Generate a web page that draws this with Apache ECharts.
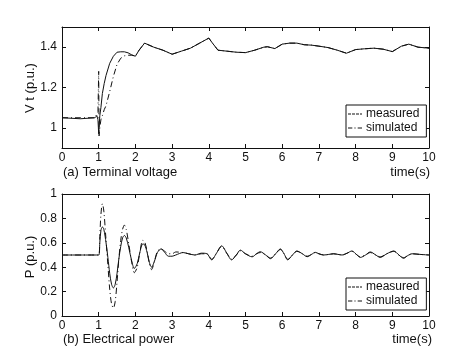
<!DOCTYPE html>
<html><head><meta charset="utf-8">
<script src="https://cdn.jsdelivr.net/npm/echarts@6/dist/echarts.min.js"></script>
<style>html,body{margin:0;padding:0;background:#fff}#c{width:474px;height:355px}</style>
</head><body><div id="c"></div>
<script>
// ---- data ----
const timeTicks = [0,1,2,3,4,5,6,7,8,9,10];
const vtTicks = [1, 1.2, 1.4];
const pTicks = [0, 0.2, 0.4, 0.6, 0.8, 1];

const vtTime = [0,0.5,0.9,0.95,0.98,1.0,1.01,1.03,1.06,1.1,1.15,1.2,1.3,1.4,1.5,1.6,1.7,1.8,1.9,2.0,2.1,2.25,2.5,2.75,3.0,3.25,3.5,3.75,4.0,4.1,4.25,4.5,4.75,5.0,5.25,5.5,5.6,5.8,6.0,6.2,6.4,6.6,6.8,7.0,7.25,7.5,7.75,8.0,8.25,8.5,8.75,9.0,9.25,9.45,9.7,10];
const vtMeasured = [1.05,1.045,1.05,1.06,1.04,0.97,1.0,1.06,1.10,1.17,1.22,1.26,1.32,1.355,1.375,1.377,1.377,1.372,1.362,1.355,1.385,1.42,1.40,1.385,1.365,1.38,1.395,1.42,1.445,1.42,1.385,1.38,1.375,1.373,1.385,1.40,1.402,1.393,1.415,1.42,1.42,1.412,1.41,1.405,1.398,1.385,1.37,1.388,1.392,1.395,1.39,1.378,1.405,1.415,1.40,1.395];
const vtSimulated = [1.05,1.05,1.05,1.05,1.08,1.28,0.96,1.0,1.04,1.06,1.09,1.11,1.18,1.255,1.315,1.345,1.357,1.36,1.36,1.356,1.385,1.42,1.40,1.385,1.365,1.38,1.395,1.42,1.445,1.42,1.385,1.38,1.375,1.373,1.385,1.40,1.402,1.393,1.415,1.42,1.42,1.412,1.41,1.405,1.398,1.385,1.37,1.388,1.392,1.395,1.39,1.378,1.405,1.415,1.40,1.395];

const pTime = [0,1.0,1.03,1.06,1.1,1.14,1.2,1.25,1.3,1.35,1.4,1.45,1.5,1.55,1.6,1.65,1.7,1.75,1.82,1.9,1.97,2.05,2.12,2.2,2.25,2.32,2.38,2.44,2.52,2.6,2.7,2.8,2.9,3.0,3.1,3.3,3.45,3.62,3.8,3.95,4.08,4.2,4.35,4.5,4.62,4.75,4.86,5.0,5.18,5.3,5.4,5.55,5.68,5.82,5.95,6.05,6.15,6.28,6.4,6.55,6.68,6.8,6.9,7.0,7.13,7.27,7.4,7.52,7.63,7.77,7.9,8.02,8.13,8.27,8.4,8.55,8.67,8.85,9.04,9.18,9.31,9.42,9.54,9.75,10];
const pMeasured = [0.5,0.5,0.6,0.70,0.73,0.71,0.60,0.48,0.35,0.26,0.23,0.26,0.35,0.47,0.57,0.64,0.66,0.64,0.56,0.45,0.39,0.43,0.52,0.59,0.585,0.52,0.44,0.40,0.45,0.52,0.55,0.52,0.49,0.49,0.50,0.52,0.51,0.50,0.515,0.51,0.46,0.51,0.575,0.51,0.46,0.50,0.54,0.51,0.485,0.51,0.527,0.50,0.47,0.51,0.55,0.51,0.46,0.50,0.533,0.51,0.486,0.505,0.522,0.51,0.50,0.505,0.51,0.505,0.50,0.515,0.533,0.505,0.48,0.50,0.525,0.50,0.48,0.51,0.533,0.50,0.473,0.495,0.51,0.505,0.50];
const pSimulated = [0.5,0.5,0.65,0.83,0.92,0.86,0.62,0.42,0.22,0.10,0.065,0.12,0.28,0.47,0.62,0.71,0.745,0.71,0.59,0.44,0.355,0.40,0.52,0.62,0.61,0.53,0.43,0.38,0.45,0.53,0.55,0.53,0.51,0.51,0.525,0.52,0.51,0.50,0.51,0.51,0.465,0.51,0.57,0.51,0.465,0.50,0.535,0.51,0.49,0.51,0.52,0.50,0.475,0.51,0.545,0.51,0.465,0.50,0.53,0.51,0.49,0.505,0.52,0.51,0.50,0.505,0.51,0.505,0.50,0.515,0.53,0.505,0.485,0.50,0.52,0.50,0.485,0.51,0.53,0.50,0.478,0.495,0.51,0.505,0.50];

// ---- chart ----
const FONT = "'Liberation Sans', Arial, sans-serif";
const INK = '#111';
const pair = (t, v) => t.map((x, i) => [x, v[i]]);

function xAx(gi, pos, labels) {
  return {
    type: 'value', gridIndex: gi, position: pos, min: 0, max: 10, interval: 1,
    axisLine: { show: true, onZero: false, lineStyle: { color: INK, width: 1 } },
    axisTick: { show: true, inside: true, length: 4, lineStyle: { color: INK } },
    axisLabel: { show: labels, color: INK, fontFamily: FONT, fontSize: 12, margin: 4,
      customValues: timeTicks },
    splitLine: { show: false }
  };
}
function yAx(gi, pos, labels, min, max, ticks) {
  return {
    type: 'value', gridIndex: gi, position: pos, min: min, max: max,
    axisLine: { show: true, onZero: false, lineStyle: { color: INK, width: 1 } },
    axisTick: { show: true, inside: true, length: 4, lineStyle: { color: INK }, customValues: ticks },
    axisLabel: { show: labels, color: INK, fontFamily: FONT, fontSize: 12, margin: 5, customValues: ticks },
    splitLine: { show: false }
  };
}
function legendAt(top) {
  return {
    orient: 'vertical', left: 346, top: top, width: 75,
    padding: [3, 7, 3, 2], itemGap: 2, itemWidth: 14, itemHeight: 12,
    backgroundColor: '#fff', borderColor: INK, borderWidth: 1, borderRadius: 0,
    selectedMode: false,
    textStyle: { color: INK, fontFamily: FONT, fontSize: 12, padding: [0, 0, 0, -1] },
    data: [
      { name: 'measured', icon: 'path://M0,0L3,0L3,1L0,1Z M4,0L7,0L7,1L4,1Z M8,0L11,0L11,1L8,1Z M12,0L14,0L14,1L12,1Z', itemStyle: { color: INK } },
      { name: 'simulated', icon: 'path://M0,0L4,0L4,1L0,1Z M6,0L7,0L7,1L6,1Z M9,0L13,0L13,1L9,1Z', itemStyle: { color: INK } }
    ]
  };
}
function line(name, xi, yi, data, dashed, smooth) {
  return {
    name: name, type: 'line', xAxisIndex: xi, yAxisIndex: yi, data: data,
    symbol: 'none', smooth: smooth, animation: false,
    lineStyle: { color: INK, width: 1, type: dashed ? [6, 3, 1, 3] : 'solid' },
    itemStyle: { color: INK }
  };
}

const chart = echarts.init(document.getElementById('c'), null, { renderer: 'canvas' });
chart.setOption({
  backgroundColor: '#fff',
  animation: false,
  grid: [
    { left: 62, right: 45, top: 27, height: 121 },
    { left: 62, right: 45, top: 194, height: 122 }
  ],
  xAxis: [xAx(0, 'bottom', true), xAx(0, 'top', false), xAx(1, 'bottom', true), xAx(1, 'top', false)],
  yAxis: [
    yAx(0, 'left', true, 0.9, 1.5, vtTicks), yAx(0, 'right', false, 0.9, 1.5, vtTicks),
    yAx(1, 'left', true, 0, 1, pTicks), yAx(1, 'right', false, 0, 1, pTicks)
  ],
  legend: [legendAt(105), legendAt(278)],
  series: [
    line('measured', 0, 0, pair(vtTime, vtMeasured), false, false),
    line('simulated', 0, 0, pair(vtTime, vtSimulated), true, false),
    line('measured', 2, 2, pair(pTime, pMeasured), false, 0.3),
    line('simulated', 2, 2, pair(pTime, pSimulated), true, 0.3)
  ],
  graphic: [
    { type: 'text', left: 63, top: 166, style: { text: '(a) Terminal voltage', font: '13px ' + FONT, fill: INK } },
    { type: 'text', right: 44, top: 166, style: { text: 'time(s)', font: '13px ' + FONT, fill: INK } },
    { type: 'text', left: 63, top: 333, style: { text: '(b) Electrical power', font: '13px ' + FONT, fill: INK } },
    { type: 'text', right: 42, top: 333, style: { text: 'time(s)', font: '13px ' + FONT, fill: INK } },
    { type: 'text', x: 30, y: 88, rotation: Math.PI / 2, style: { text: 'V t (p.u.)', font: '13px ' + FONT, fill: INK, align: 'center', verticalAlign: 'middle' } },
    { type: 'text', x: 30, y: 257, rotation: Math.PI / 2, style: { text: 'P (p.u.)', font: '13px ' + FONT, fill: INK, align: 'center', verticalAlign: 'middle' } }
  ]
});
</script>
</body></html>
